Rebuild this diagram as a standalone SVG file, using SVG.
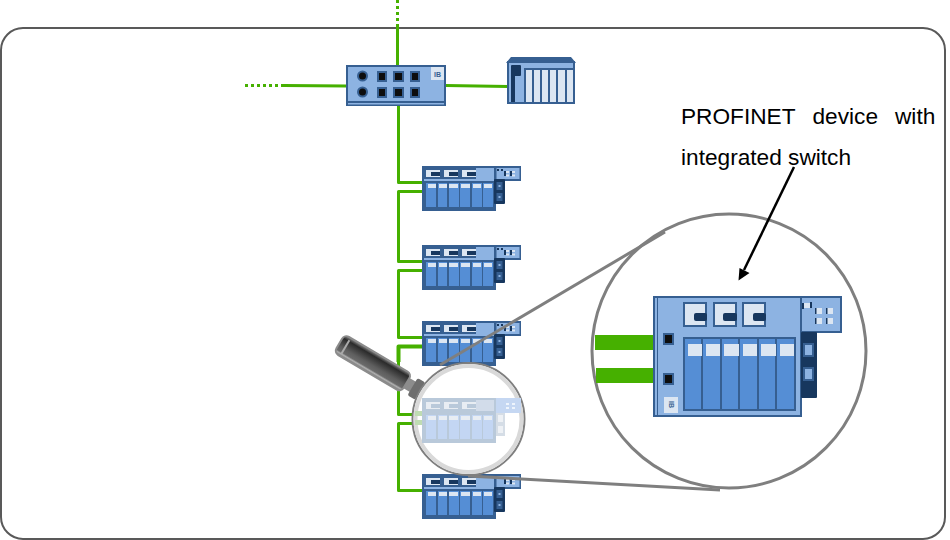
<svg xmlns="http://www.w3.org/2000/svg" xmlns:xlink="http://www.w3.org/1999/xlink" width="950" height="540" viewBox="0 0 950 540">
<style>
.d{fill:#365f91}.l{fill:#8db3e2}.m{fill:#558ed5}.w{fill:#dce6f2}.n{fill:#17375e}.k{fill:#0d0d0d}
.g{fill:none;stroke:#46b000;stroke-width:3;stroke-linejoin:round}
.gt{fill:none;stroke:#46b000;stroke-width:4;stroke-linejoin:round}
.gd{fill:none;stroke:#46b000;stroke-width:3;stroke-dasharray:3 3}
.z{fill:none;stroke:#7f7f7f;stroke-width:3}
.t{font-family:"Liberation Sans",Arial,sans-serif;font-size:22.67px;fill:#000}
</style>
<defs>
<g id="dev">
<rect class="d" width="74" height="45"/>
<rect class="d" x="74" width="25" height="15"/>
<rect class="l" x="74.500" y="2" width="23" height="11"/>
<rect class="l" x="54" y="2" width="18" height="11"/>
<rect class="l" x="2" y="13" width="70" height="2"/>
<g class="w"><rect x="4" y="4" width="14" height="7"/><rect x="22" y="4" width="14" height="7"/><rect x="40" y="4" width="14" height="7"/></g>
<g class="n"><rect x="9" y="6" width="9" height="4"/><rect x="27" y="6" width="9" height="4"/><rect x="45" y="6" width="9" height="4"/></g>
<g class="m"><rect x="4" y="17" width="10" height="24"/><rect x="16" y="17" width="9" height="24"/><rect x="27" y="17" width="10" height="24"/><rect x="38" y="17" width="10" height="24"/><rect x="50" y="17" width="10" height="24"/><rect x="61" y="17" width="10" height="24"/></g>
<g class="w"><rect x="6" y="18" width="8" height="4"/><rect x="17" y="18" width="8" height="4"/><rect x="27" y="18" width="9" height="4"/><rect x="39" y="18" width="9" height="4"/><rect x="51" y="18" width="8" height="4"/><rect x="62" y="18" width="8" height="4"/></g>
<rect class="n" x="72" y="13" width="11" height="25" rx="1"/>
<g class="d"><rect x="74.500" y="16" width="6" height="8"/><rect x="74.500" y="27" width="6" height="8"/></g>
<g class="l"><rect x="76.500" y="19" width="2" height="2"/><rect x="76.500" y="30" width="2" height="2"/></g>
<g class="n"><rect x="75" y="3" width="2" height="2"/><rect x="79" y="3" width="2" height="2"/><rect x="82" y="5" width="2" height="5"/><rect x="88" y="5" width="2" height="5"/></g>
<g class="w"><rect x="84" y="5" width="3" height="2"/><rect x="84" y="8.500" width="3" height="2"/><rect x="90" y="5" width="3" height="2"/><rect x="90" y="8.500" width="3" height="2"/></g>
</g>
<linearGradient id="hg" x1="0" y1="0" x2="0" y2="1"><stop offset="0" stop-color="#8a8a8a"/><stop offset="0.18" stop-color="#2b2b2b"/><stop offset="0.6" stop-color="#5e5e5e"/><stop offset="0.8" stop-color="#6a6a6a"/><stop offset="0.88" stop-color="#b0b0b0"/><stop offset="1" stop-color="#6e6e6e"/></linearGradient>
</defs>
<rect x="1" y="28" width="944" height="511" rx="22" fill="#fff" stroke="#595959" stroke-width="2"/>
<g id="connectors">
<path class="gd" d="M397.500 0V28"/>
<path class="g" d="M397.500 25V65"/>
<path class="gd" d="M245 85.500H284"/>
<path class="g" d="M284 85.500L346 86"/>
<path class="g" d="M446 85.500L508 86.500"/>
<path class="g" d="M398.500 106V182.500H422"/>
<path class="g" d="M422 191.500H398.500V261.500H422"/>
<path class="g" d="M422 270.500H398.500V337.500H422"/>
<path class="gt" d="M422 346.500H398.500V362"/>
<path class="g" d="M398.500 362V414.500H416"/>
<path class="g" d="M416 423.500H398.500V490.500H422"/>
</g>
<g id="switch">
<rect class="d" x="346" y="65" width="100" height="41"/>
<rect class="l" x="348" y="67" width="96" height="34"/>
<rect class="l" x="348" y="103" width="96" height="1.500"/>
<rect class="w" x="431" y="67" width="13" height="13"/>
<text x="434" y="77" font-family="Liberation Sans,sans-serif" font-size="7" font-weight="bold" fill="#365f91">IB</text>
<g class="d"><circle cx="362.500" cy="76" r="5.500"/><circle cx="362.500" cy="92" r="5.500"/>
<rect x="377" y="71" width="10" height="11"/><rect x="393" y="71" width="11" height="11"/><rect x="410" y="71" width="10" height="11"/>
<rect x="377" y="87" width="10" height="11"/><rect x="393" y="87" width="11" height="11"/><rect x="410" y="87" width="10" height="11"/></g>
<g class="k"><circle cx="362.500" cy="76" r="3.500"/><circle cx="362.500" cy="92" r="3.500"/>
<rect x="379" y="73" width="6" height="7"/><rect x="395" y="73" width="7" height="7"/><rect x="412" y="73" width="6" height="7"/>
<rect x="379" y="89" width="6" height="7"/><rect x="395" y="89" width="7" height="7"/><rect x="412" y="89" width="6" height="7"/></g>
</g>
<g id="controller">
<path class="d" d="M506 63L511 57H571L576 63Z"/>
<rect class="d" x="507" y="61" width="68" height="43"/>
<rect class="l" x="509" y="63" width="64" height="5"/>
<rect class="l" x="509" y="68" width="64" height="34"/>
<rect class="d" x="524" y="68" width="49" height="34"/>
<g class="w"><rect x="526" y="70" width="6" height="32"/><rect x="534" y="70" width="6" height="32"/><rect x="542" y="70" width="6" height="32"/><rect x="550" y="70" width="6" height="32"/><rect x="558" y="70" width="7" height="32"/><rect x="567" y="70" width="6" height="32"/></g>
<rect class="n" x="511" y="65" width="10" height="11" rx="1"/>
<rect class="n" x="511" y="70" width="4" height="32"/>
</g>
<use id="device1" xlink:href="#dev" href="#dev" x="422" y="166"/>
<use id="device2" xlink:href="#dev" href="#dev" x="422" y="245"/>
<use id="device3" xlink:href="#dev" href="#dev" x="422" y="321"/>
<use id="device5" xlink:href="#dev" href="#dev" x="422" y="474"/>
<g id="zoom-lines">
<path class="z" d="M665 232L440 365"/>
<path class="z" d="M720 490L468 476"/>
</g>
<g id="magnifier">
<g transform="translate(341 344.500) rotate(30.500)">
<rect x="-2" y="-10.500" width="78" height="21" rx="5" fill="url(#hg)" stroke="#8c8c8c" stroke-width="2"/>
<rect x="4" y="-8" width="2" height="16" fill="#aaa"/>
<rect x="76" y="-6" width="8" height="12" fill="#8c8c8c"/>
<rect x="83" y="-10" width="9" height="20" rx="2" fill="#6e6e6e"/>
</g>
<circle cx="468.500" cy="419" r="56" fill="#fff" stroke="#7f7f7f" stroke-width="2"/>
<circle cx="468.500" cy="419" r="53" fill="#fff" stroke="#d9d9d9" stroke-width="4"/>
<rect x="415" y="411" width="7" height="5" fill="#bfdcb3"/>
<rect x="415" y="420" width="7" height="5" fill="#bfdcb3"/>
</g>
<g id="device4">
<rect x="422" y="398" width="74" height="45" fill="#b9c9da"/>
<rect x="496" y="398" width="25" height="15" fill="#c5d7f2"/>
<rect x="476" y="400" width="18" height="11" fill="#d2dcea"/>
<g fill="#e8edf3"><rect x="426" y="402" width="14" height="7"/><rect x="444" y="402" width="14" height="7"/><rect x="462" y="402" width="14" height="7"/></g>
<g fill="#b9c9da"><rect x="431" y="404" width="9" height="4"/><rect x="449" y="404" width="9" height="4"/><rect x="467" y="404" width="9" height="4"/></g>
<g fill="#c3d6f3"><rect x="426" y="415" width="10" height="24"/><rect x="438" y="415" width="9" height="24"/><rect x="449" y="415" width="10" height="24"/><rect x="460" y="415" width="10" height="24"/><rect x="472" y="415" width="10" height="24"/><rect x="483" y="415" width="10" height="24"/></g>
<g fill="#e8edf3"><rect x="428" y="416" width="8" height="4"/><rect x="439" y="416" width="8" height="4"/><rect x="449" y="416" width="9" height="4"/><rect x="461" y="416" width="9" height="4"/><rect x="473" y="416" width="8" height="4"/><rect x="484" y="416" width="8" height="4"/></g>
<rect x="496" y="413" width="9" height="23" fill="#d5dde6"/>
<g fill="#eef1f5"><rect x="498" y="415" width="5" height="7"/><rect x="498" y="426" width="5" height="7"/></g>
<g fill="#eef4fc"><rect x="506" y="403" width="3" height="2"/><rect x="506" y="407" width="3" height="2"/><rect x="512" y="403" width="3" height="2"/><rect x="512" y="407" width="3" height="2"/></g>
</g>
<g id="zoom-circle"><circle class="z" cx="729" cy="351" r="137"/></g>
<g id="device-large">
<rect x="595" y="335" width="58" height="15" fill="#46b000"/>
<rect x="596" y="368" width="57" height="15" fill="#46b000"/>
<rect class="d" x="653" y="296" width="149" height="121"/>
<rect class="l" x="658" y="298" width="142" height="117"/>
<rect class="l" x="655" y="298" width="2" height="117"/>
<rect class="d" x="801" y="296" width="41" height="37"/>
<rect class="l" x="802" y="298" width="38" height="33"/>
<rect class="d" x="663" y="333" width="11" height="12"/><rect class="k" x="665" y="335" width="7" height="8"/>
<rect class="d" x="663" y="373" width="11" height="12"/><rect class="k" x="665" y="375" width="7" height="8"/>
<rect class="w" x="664" y="397" width="14" height="16"/>
<text transform="translate(669 401) rotate(90)" font-family="Liberation Sans,sans-serif" font-size="7" font-weight="bold" fill="#365f91">IB</text>
<g class="w" stroke="#365f91" stroke-width="2"><rect x="684" y="303" width="22" height="23"/><rect x="714" y="303" width="22" height="23"/><rect x="743" y="303" width="22" height="23"/></g>
<g class="n"><rect x="694" y="313" width="13" height="8" rx="2"/><rect x="723" y="313" width="14" height="8" rx="2"/><rect x="753" y="313" width="13" height="8" rx="2"/></g>
<rect class="d" x="683" y="337" width="113" height="74"/>
<g class="m"><rect x="685" y="339" width="16" height="70"/><rect x="703" y="339" width="17" height="70"/><rect x="722" y="339" width="16" height="70"/><rect x="740" y="339" width="17" height="70"/><rect x="759" y="339" width="16" height="70"/><rect x="777" y="339" width="17" height="70"/></g>
<g class="w"><rect x="688" y="344" width="14" height="12"/><rect x="706" y="344" width="14" height="12"/><rect x="724" y="344" width="15" height="12"/><rect x="743" y="344" width="14" height="12"/><rect x="761" y="344" width="15" height="12"/><rect x="780" y="344" width="14" height="12"/></g>
<rect class="n" x="801" y="332" width="16" height="66" rx="1"/>
<g class="d"><rect x="803" y="343" width="11" height="14"/><rect x="803" y="367" width="11" height="14"/></g>
<g class="l"><rect x="805" y="345" width="7" height="10"/><rect x="805" y="369" width="7" height="10"/></g>
<g class="w"><rect x="804" y="303" width="6" height="5"/><rect x="816" y="308" width="6" height="6"/><rect x="827" y="308" width="6" height="6"/><rect x="816" y="318" width="6" height="6"/><rect x="827" y="318" width="6" height="6"/></g>
<g class="n"><rect x="802" y="303" width="2" height="6"/><rect x="810" y="302" width="2" height="6"/><rect x="815" y="308" width="1.500" height="6"/><rect x="826" y="308" width="1.500" height="6"/><rect x="815" y="318" width="1.500" height="6"/><rect x="826" y="318" width="1.500" height="6"/></g>
</g>
<g id="callout">
<text class="t" y="123.500"><tspan x="681">PROFINET</tspan><tspan x="812.500">device</tspan><tspan x="895">with</tspan></text>
<text class="t" x="681" y="164.500">integrated switch</text>
<path d="M794 167L744 270" stroke="#000" stroke-width="2.500" fill="none"/>
<path d="M738.500 280.500L739.500 268L749.500 273Z" fill="#000"/>
</g>
</svg>
